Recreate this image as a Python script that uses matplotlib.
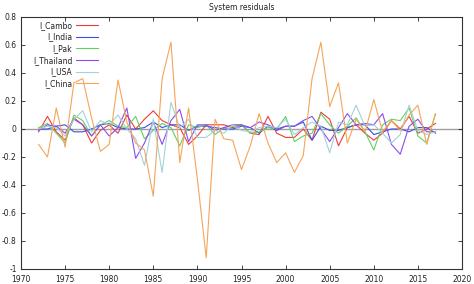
import matplotlib
matplotlib.use("Agg")
import matplotlib.pyplot as plt
from matplotlib.ticker import FixedLocator, FuncFormatter

years = list(range(1972, 2018))

l_Cambo = [-0.02, 0.09, -0.02, -0.08, 0.08, 0.03, -0.10, -0.01, 0.03, -0.03,
           0.10, 0.00, 0.07, 0.13, 0.06, 0.03, 0.01, -0.11, -0.05, 0.03,
           0.03, 0.03, 0.01, 0.03, -0.03, -0.04, 0.09, -0.03, -0.06, -0.06,
           0.00, -0.08, 0.12, 0.07, -0.12, 0.01, 0.03, -0.03, -0.08, -0.03,
           0.06, 0.00, 0.09, -0.03, 0.00, 0.04]
l_India = [0.00, 0.00, 0.02, 0.03, -0.02, -0.02, 0.00, 0.03, 0.04, 0.01,
           0.00, 0.00, 0.01, 0.05, 0.01, 0.03, 0.03, -0.01, 0.02, 0.02,
           0.01, 0.00, 0.00, 0.02, 0.01, -0.03, 0.02, -0.01, 0.02, 0.02,
           0.05, -0.08, 0.02, -0.01, -0.01, 0.01, 0.03, 0.03, -0.04, -0.02,
           0.00, 0.00, -0.02, 0.01, 0.01, -0.03]
l_Pak = [0.01, 0.04, -0.03, -0.10, 0.10, 0.06, -0.05, 0.03, 0.06, 0.02,
         0.01, 0.09, -0.07, -0.01, 0.04, 0.01, -0.12, 0.03, 0.01, 0.03,
         -0.04, 0.01, 0.02, 0.03, -0.03, -0.02, 0.01, 0.00, 0.09, -0.09,
         -0.05, -0.03, 0.11, 0.03, -0.03, 0.02, 0.08, -0.02, -0.15, 0.03,
         0.07, 0.06, 0.15, -0.05, -0.10, 0.11]
l_Thailand = [-0.01, 0.03, 0.02, -0.03, 0.07, 0.03, -0.05, 0.03, -0.05, 0.01,
              0.15, -0.21, -0.10, 0.05, -0.11, 0.06, 0.14, -0.09, 0.03, 0.03,
              -0.01, 0.01, 0.03, 0.03, 0.01, 0.05, 0.03, 0.00, 0.02, 0.02,
              0.06, 0.09, 0.00, -0.09, 0.01, 0.11, 0.03, 0.04, 0.03, 0.11,
              -0.11, -0.18, 0.02, 0.07, -0.02, -0.02]
l_USA = [0.00, 0.02, 0.01, -0.05, 0.07, 0.13, -0.02, 0.06, 0.03, 0.10,
         0.00, -0.07, -0.26, 0.07, -0.31, 0.19, 0.01, 0.07, -0.06, -0.06,
         -0.01, -0.03, 0.03, -0.01, -0.02, 0.01, 0.02, 0.01, 0.07, -0.04,
         0.01, 0.05, 0.02, -0.17, 0.05, 0.03, 0.17, 0.02, 0.03, -0.03,
         -0.10, -0.04, 0.17, -0.01, -0.04, -0.02]
l_China = [-0.11, -0.20, 0.15, -0.13, 0.33, 0.36, 0.08, -0.16, -0.11, 0.35,
           0.05, -0.10, -0.15, -0.48, 0.36, 0.62, -0.24, 0.15, -0.36, -0.92,
           0.07, -0.07, -0.08, -0.29, -0.12, 0.11, -0.10, -0.24, -0.17, -0.31,
           -0.19, 0.36, 0.62, 0.16, 0.33, -0.10, 0.07, -0.02, 0.21, -0.02,
           0.06, -0.01, 0.10, 0.17, -0.11, 0.11]

series = [("l_Cambo", l_Cambo, "#ee3b3b"),
          ("l_India", l_India, "#3b4fe0"),
          ("l_Pak", l_Pak, "#5fd35f"),
          ("l_Thailand", l_Thailand, "#8c4cf0"),
          ("l_USA", l_USA, "#a3d2d8"),
          ("l_China", l_China, "#f5a55a")]

xticks = list(range(1970, 2021, 5))
yticks = [-1, -0.8, -0.6, -0.4, -0.2, 0, 0.2, 0.4, 0.6, 0.8]

fig = plt.figure(figsize=(4.74, 2.84), dpi=100)
ax = fig.add_axes([21/474, 1 - 269/284, 441/474, 252/284])

ax.axhline(0, color="#a0a0a0", lw=1.0, zorder=1)
for name, vals, col in series:
    ax.plot(years, vals, color=col, lw=0.8, label=name, zorder=2)

ax.set_xlim(1970, 2020)
ax.set_ylim(-1, 0.8)
ax.xaxis.set_major_locator(FixedLocator(xticks))
ax.yaxis.set_major_locator(FixedLocator(yticks))
ax.yaxis.set_major_formatter(FuncFormatter(lambda v, p: ("%g" % round(v, 2))))
ax.tick_params(direction="in", top=True, right=True, labelsize=5.5,
               length=3, width=0.6, colors="#222222")
ax.tick_params(axis="x", pad=4.2)
ax.tick_params(axis="y", pad=3)
for s in ax.spines.values():
    s.set_linewidth(0.8)
    s.set_color("#333333")

ax.set_title("System residuals", fontsize=5.5, pad=5, color="#222222")

leg = ax.legend(loc="upper right", bbox_to_anchor=(0.175, 0.985),
                frameon=False, markerfirst=False, fontsize=5.5,
                handlelength=2.9, handletextpad=0.5, labelspacing=0.35,
                borderpad=0, borderaxespad=0)
for t in leg.get_texts():
    t.set_color("#222222")

fig.savefig("out.png", dpi=100)
